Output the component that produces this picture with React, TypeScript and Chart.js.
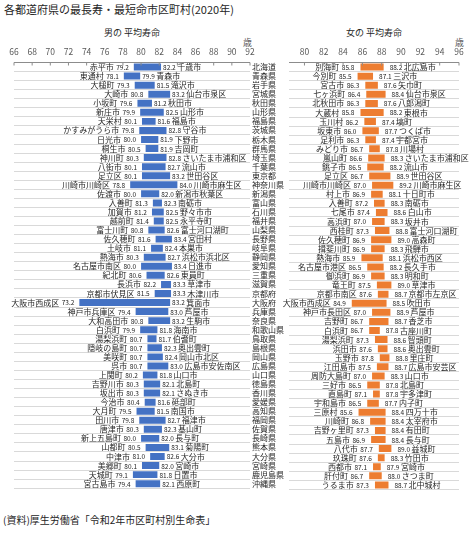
import React, { useEffect, useRef } from "react";
import { Chart, registerables } from "chart.js";
Chart.register(...registerables);

const PREFECTURES = ["北海道","青森県","岩手県","宮城県","秋田県","山形県","福島県","茨城県","栃木県","群馬県","埼玉県","千葉県","東京都","神奈川県","新潟県","富山県","石川県","福井県","山梨県","長野県","岐阜県","静岡県","愛知県","三重県","滋賀県","京都府","大阪府","兵庫県","奈良県","和歌山県","鳥取県","島根県","岡山県","広島県","山口県","徳島県","香川県","愛媛県","高知県","福岡県","佐賀県","長崎県","熊本県","大分県","宮崎県","鹿児島県","沖縄県"];

const MALE_MIN_NAMES = ["赤平市","東通村","大槌町","大崎市","小坂町","新庄市","天栄村","かすみがうら市","日光市","桐生市","神川町","八街市","足立区","川崎市川崎区","佐渡市","入善町","加賀市","越前町","富士川町","佐久穂町","土岐市","熱海市","名古屋市南区","紀北町","長浜市","京都市伏見区","大阪市西成区","神戸市兵庫区","大和高田市","白浜町","湯梨浜町","隠岐の島町","美咲町","呉市","上関町","吉野川市","坂出市","今治市","大月町","田川市","唐津市","新上五島町","山都町","中津市","美郷町","天城町","宮古島市"];
const MALE_MIN = [79.2,78.1,79.3,80.8,79.6,79.9,80.1,79.8,80.0,80.5,80.3,80.1,80.1,78.8,80.0,81.3,81.2,81.4,80.8,81.6,81.1,80.3,80.0,80.6,82.2,81.5,73.2,79.4,80.8,79.9,80.7,80.7,80.7,80.7,80.2,80.3,80.3,80.4,79.5,79.8,80.3,80.0,80.5,81.0,80.1,79.1,79.4];
const MALE_MAX = [82.2,79.9,81.5,83.2,81.2,82.5,81.6,82.8,81.9,81.9,82.8,82.7,83.2,84.0,82.0,82.3,82.5,82.5,82.6,83.4,82.4,82.7,83.4,82.6,83.3,83.3,83.2,83.0,83.2,81.8,81.7,82.3,82.4,83.0,81.8,82.1,82.1,81.6,81.5,82.7,82.3,82.0,83.1,82.6,82.0,81.8,82.1];
const MALE_MAX_NAMES = ["千歳市","青森市","滝沢市","仙台市泉区","秋田市","山形市","福島市","守谷市","下野市","吉岡町","さいたま市浦和区","流山市","世田谷区","川崎市麻生区","新潟市秋葉区","南砺市","野々市市","永平寺町","富士河口湖町","宮田村","本巣市","浜松市浜北区","日進市","東員町","草津市","木津川市","箕面市","芦屋市","生駒市","海南市","伯耆町","奥出雲町","岡山市北区","広島市安佐南区","山口市","北島町","さぬき市","砥部町","南国市","福津市","基山町","長与町","菊陽町","大分市","宮崎市","日置市","西原町"];

const FEMALE_MIN_NAMES = ["別海町","今別町","宮古市","七ヶ浜町","北秋田市","大蔵村","玉川村","坂東市","足利市","みどり市","嵐山町","銚子市","足立区","川崎市川崎区","村上市","入善町","七尾市","高浜町","西桂町","佐久穂町","揖斐川町","熱海市","名古屋市港区","御浜町","竜王町","京都市南区","大阪市西成区","神戸市長田区","吉野町","白浜町","湯梨浜町","浜田市","玉野市","江田島市","周防大島町","三好市","直島町","宇和島市","三原村","川崎町","吉野ヶ里町","五島市","八代市","玖珠町","西都市","肝付町","うるま市"];
const FEMALE_MIN = [85.8,85.5,86.3,86.4,86.3,85.8,86.2,86.0,86.3,86.7,86.6,86.5,86.7,87.0,86.9,87.2,87.4,87.0,87.3,86.9,86.9,85.9,86.5,86.9,87.5,87.6,84.9,87.0,86.7,86.7,87.3,87.6,87.8,87.5,87.0,86.5,87.1,86.5,85.6,86.8,87.3,86.9,87.7,87.6,87.1,86.7,87.3];
const FEMALE_MAX = [88.2,87.1,87.6,88.4,87.6,88.2,87.4,87.7,87.4,87.8,88.3,88.2,88.9,89.2,88.1,88.3,88.6,88.3,88.8,89.0,88.3,88.1,88.2,88.3,89.0,88.7,88.5,88.9,88.7,87.8,88.6,88.6,88.8,88.7,88.3,87.8,87.8,87.7,88.4,88.4,88.4,88.4,89.0,88.3,87.9,88.0,88.7];
const FEMALE_MAX_NAMES = ["北広島市","三沢市","矢巾町","仙台市泉区","八郎潟町","東根市","塙町","つくば市","宇都宮市","川場村","さいたま市浦和区","流山市","世田谷区","川崎市麻生区","十日町市","南砺市","白山市","坂井市","富士河口湖町","高森町","飛騨市","浜松市西区","長久手市","明和町","草津市","京都市左京区","吹田市","芦屋市","香芝市","古座川町","智頭町","奥出雲町","里庄町","広島市安芸区","山口市","北島町","宇多津町","内子町","四万十市","太宰府市","有田町","長与町","益城町","竹田市","宮崎市","さつま町","北中城村"];

const MALE_TICKS = [66,68,70,72,74,76,78,80,82,84,86,88,90,92];
const FEMALE_TICKS = [80,82,84,86,88,90,92,94,96];

const FONT = '"Noto Sans CJK JP", "Noto Sans", sans-serif';
const TEXT = "#262626";

function labelPlugin(minNames: string[], mins: number[], maxs: number[], maxNames: string[], gapL: number, gapR: number) {
  return {
    id: "rangeLabels",
    afterDatasetsDraw(chart: any) {
      const ctx = chart.ctx;
      const xs = chart.scales.x;
      const ys = chart.scales.y;
      ctx.save();
      ctx.textBaseline = "middle";
      ctx.fillStyle = TEXT;
      for (let i = 0; i < mins.length; i++) {
        const yy = ys.getPixelForValue(i);
        const x0 = xs.getPixelForValue(mins[i]);
        const x1 = xs.getPixelForValue(maxs[i]);
        ctx.textAlign = "right";
        ctx.font = `6.5px ${FONT}`;
        const nl = mins[i].toFixed(1);
        const wl = ctx.measureText(nl).width;
        ctx.fillText(nl, x0 - gapL, yy + 0.5);
        ctx.font = `8px ${FONT}`;
        ctx.fillText(minNames[i], x0 - gapL - wl - 2.5, yy);
        ctx.textAlign = "left";
        ctx.font = `6.5px ${FONT}`;
        const nr = maxs[i].toFixed(1);
        const wr = ctx.measureText(nr).width;
        ctx.fillText(nr, x1 + gapR, yy + 0.5);
        ctx.font = `8px ${FONT}`;
        ctx.fillText(maxNames[i], x1 + gapR + wr + 1.5, yy);
      }
      ctx.restore();
    },
  };
}

const axisPlugin = {
  id: "topAxis",
  afterDraw(chart: any) {
    const ctx = chart.ctx;
    const { left, right, top } = chart.chartArea;
    const xs = chart.scales.x;
    ctx.save();
    ctx.strokeStyle = "#8c8c8c";
    ctx.lineWidth = 1;
    ctx.beginPath();
    ctx.moveTo(left, top);
    ctx.lineTo(right, top);
    for (const t of xs.ticks) {
      const px = xs.getPixelForValue(t.value);
      ctx.moveTo(px, top);
      ctx.lineTo(px, top + 3);
    }
    ctx.stroke();
    ctx.fillStyle = "#595959";
    ctx.font = `8.5px ${FONT}`;
    ctx.textAlign = "center";
    ctx.textBaseline = "middle";
    for (const t of xs.ticks) {
      ctx.fillText(String(t.value), xs.getPixelForValue(t.value), 52);
    }
    ctx.restore();
  },
};

function makeConfig(opts: {
  mins: number[]; maxs: number[]; color: string; xmin: number; xmax: number; ticks: number[];
  showPrefs: boolean; padding: any; plugin: any;
}) {
  return {
    type: "bar" as const,
    data: {
      labels: PREFECTURES,
      datasets: [
        {
          data: opts.mins.map((v, i) => [v, opts.maxs[i]]),
          backgroundColor: opts.color,
          borderWidth: 0,
          barPercentage: 0.77,
          categoryPercentage: 1,
        },
      ],
    },
    options: {
      indexAxis: "y" as const,
      responsive: false,
      animation: false as const,
      devicePixelRatio: 1,
      layout: { padding: opts.padding },
      plugins: { legend: { display: false }, tooltip: { enabled: false }, title: { display: false } },
      scales: {
        x: {
          type: "linear" as const,
          position: "top" as const,
          min: opts.xmin,
          max: opts.xmax,
          grid: { display: false },
          border: { display: false },
          afterBuildTicks: (s: any) => { s.ticks = opts.ticks.map((v) => ({ value: v })); },
          afterFit: (s: any) => { s.height = 62.5; },
          ticks: { display: false, autoSkip: false },
        },
        y: {
          type: "category" as const,
          position: opts.showPrefs ? ("right" as const) : ("left" as const),
          offset: true,
          grid: { display: true, offset: true, drawTicks: false, color: "#d9d9d9", lineWidth: 1 },
          border: { display: false },
          afterFit: (s: any) => { s.width = opts.showPrefs ? 50 : 0; },
          ticks: {
            display: opts.showPrefs,
            font: { family: FONT, size: 8 },
            color: TEXT,
            padding: 2,
            autoSkip: false,
          },
        },
      },
    },
    plugins: [opts.plugin, axisPlugin],
  };
}

export default function App() {
  const maleRef = useRef<HTMLCanvasElement>(null);
  const femaleRef = useRef<HTMLCanvasElement>(null);

  useEffect(() => {
    const m = new Chart(
      maleRef.current!,
      makeConfig({
        mins: MALE_MIN, maxs: MALE_MAX, color: "#4472C4", xmin: 66, xmax: 92, ticks: MALE_TICKS,
        showPrefs: true, padding: { left: 14, right: 0, top: 0, bottom: 5.5 },
        plugin: labelPlugin(MALE_MIN_NAMES, MALE_MIN, MALE_MAX, MALE_MAX_NAMES, 5, 2),
      }) as any
    );
    const f = new Chart(
      femaleRef.current!,
      makeConfig({
        mins: FEMALE_MIN, maxs: FEMALE_MAX, color: "#ED7D31", xmin: 78.4, xmax: 96, ticks: FEMALE_TICKS,
        showPrefs: false, padding: { left: 9, right: 15, top: 0, bottom: 5.5 },
        plugin: labelPlugin(FEMALE_MIN_NAMES, FEMALE_MIN, FEMALE_MAX, FEMALE_MAX_NAMES, 6, 6),
      }) as any
    );
    return () => { m.destroy(); f.destroy(); };
  }, []);

  const txt = (s: React.CSSProperties): React.CSSProperties => ({
    position: "absolute", whiteSpace: "nowrap", fontFamily: FONT, color: TEXT, margin: 0, ...s,
  });

  return (
    <div style={{ position: "absolute", left: 0, top: 0, width: 474, height: 533, background: "#fff", overflow: "hidden" }}>
      <div style={txt({ left: 4, top: 2, fontSize: 11, lineHeight: "14px" })}>各都道府県の最長寿・最短命市区町村(2020年)</div>
      <div style={txt({ left: 72, width: 120, textAlign: "center", top: 27, fontSize: 9, lineHeight: "12px" })}>男の 平均寿命</div>
      <div style={txt({ left: 314, width: 120, textAlign: "center", top: 27, fontSize: 9, lineHeight: "12px" })}>女の 平均寿命</div>
      <div style={txt({ left: 243, top: 37, fontSize: 9, lineHeight: "12px", color: "#595959" })}>歳</div>
      <div style={txt({ left: 455, top: 37, fontSize: 9, lineHeight: "12px", color: "#595959" })}>歳</div>
      <canvas ref={maleRef} width={300} height={495} style={{ position: "absolute", left: 0, top: 0, width: 300, height: 495 }} />
      <canvas ref={femaleRef} width={194} height={495} style={{ position: "absolute", left: 280, top: 0, width: 194, height: 495 }} />
      <div style={txt({ left: 3, top: 513, fontSize: 10, lineHeight: "14px" })}>(資料)厚生労働省「令和2年市区町村別生命表」</div>
    </div>
  );
}
